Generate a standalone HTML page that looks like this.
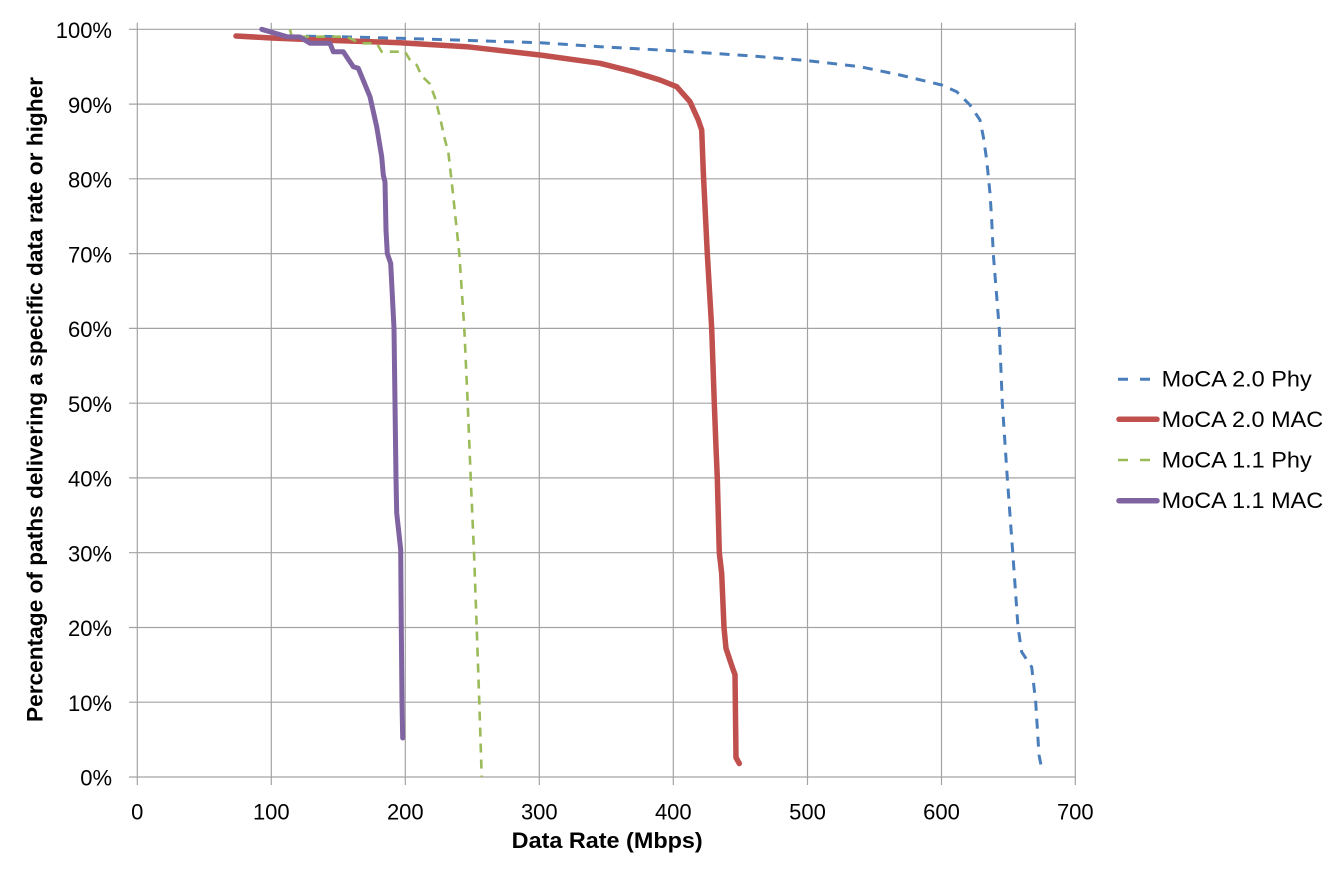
<!DOCTYPE html>
<html><head><meta charset="utf-8"><style>
html,body{margin:0;padding:0;background:#fff;}
svg{display:block}
text{font-family:"Liberation Sans",Arial,sans-serif;fill:#000}
</style></head><body>
<svg width="1337" height="879" viewBox="0 0 1337 879" xmlns="http://www.w3.org/2000/svg">
<rect width="1337" height="879" fill="#fff"/>
<g stroke="#a3a3a3" stroke-width="1.2" fill="none">
<line x1="129" y1="702.2" x2="1075.3" y2="702.2"/>
<line x1="129" y1="627.5" x2="1075.3" y2="627.5"/>
<line x1="129" y1="552.7" x2="1075.3" y2="552.7"/>
<line x1="129" y1="477.9" x2="1075.3" y2="477.9"/>
<line x1="129" y1="403.2" x2="1075.3" y2="403.2"/>
<line x1="129" y1="328.4" x2="1075.3" y2="328.4"/>
<line x1="129" y1="253.6" x2="1075.3" y2="253.6"/>
<line x1="129" y1="178.8" x2="1075.3" y2="178.8"/>
<line x1="129" y1="104.1" x2="1075.3" y2="104.1"/>
<line x1="129" y1="29.3" x2="1075.3" y2="29.3"/>
<line x1="271.3" y1="22.7" x2="271.3" y2="785"/>
<line x1="405.3" y1="22.7" x2="405.3" y2="785"/>
<line x1="539.3" y1="22.7" x2="539.3" y2="785"/>
<line x1="673.3" y1="22.7" x2="673.3" y2="785"/>
<line x1="807.5" y1="22.7" x2="807.5" y2="785"/>
<line x1="941.5" y1="22.7" x2="941.5" y2="785"/>
<line x1="1075.3" y1="22.7" x2="1075.3" y2="785"/>
<line x1="137.3" y1="22.7" x2="137.3" y2="785"/>
<line x1="129" y1="777" x2="1075.3" y2="777"/>
</g>

<g font-size="22" text-anchor="end">
<text x="112" y="38">100%</text>
<text x="112" y="112.8">90%</text>
<text x="112" y="187.5">80%</text>
<text x="112" y="262.3">70%</text>
<text x="112" y="337.1">60%</text>
<text x="112" y="411.9">50%</text>
<text x="112" y="486.6">40%</text>
<text x="112" y="561.4">30%</text>
<text x="112" y="636.2">20%</text>
<text x="112" y="710.9">10%</text>
<text x="112" y="785.7">0%</text>
</g>
<g font-size="22" text-anchor="middle">
<text x="137.3" y="819.3">0</text>
<text x="271.3" y="819.3">100</text>
<text x="405.3" y="819.3">200</text>
<text x="539.3" y="819.3">300</text>
<text x="673.3" y="819.3">400</text>
<text x="807.5" y="819.3">500</text>
<text x="941.5" y="819.3">600</text>
<text x="1075.3" y="819.3">700</text>
</g>
<text x="511.7" y="848" font-size="22" font-weight="bold" textLength="191" lengthAdjust="spacingAndGlyphs">Data Rate (Mbps)</text>
<text transform="translate(42.5,722) rotate(-90)" x="0" y="0" font-size="22.5" font-weight="bold" textLength="645" lengthAdjust="spacingAndGlyphs">Percentage of paths delivering a specific data rate or higher</text>

<!-- MoCA 2.0 Phy -->
<polyline fill="none" stroke="#4a7ebb" stroke-width="3" stroke-dasharray="10 8" stroke-linejoin="round"
points="288,36 330,36.5 400,38.3 470,40.5 540,42.7 600,46.7 673,50.7 753,56 808,60.7 860,66.7 900,75 941.7,85 956.7,91.7 970,105 980,120 983.3,136.7 986.7,160 990,193.3 991.7,220 993.3,254 999.3,329 1002.3,403 1007.3,478 1012.7,552 1018,627 1021.7,652 1031.7,667 1035.7,702 1039,755 1041,765"/>

<!-- MoCA 2.0 MAC -->
<polyline fill="none" stroke="#c0504d" stroke-width="5.5" stroke-linejoin="round" stroke-linecap="round"
points="236,36 271.7,38 320,40 400,42.7 466.7,46.7 540,55 600,63.3 633.3,71.7 660,80 676.7,86.7 690,101.7 698.3,120 701.7,130 703.3,172 707.3,253.6 711.7,328.4 714.3,403.2 716,447.3 717.3,477.9 719.3,552.7 721.7,573.6 724,627.5 726,648.4 730,660.4 733.3,670.1 735,674.6 736,757.6 739.3,763.5"/>

<!-- MoCA 1.1 Phy -->
<polyline fill="none" stroke="#9bbb59" stroke-width="2.6" stroke-dasharray="9 7" stroke-linejoin="round"
points="290,29.3 291.7,36.7 346.7,36.7 360,43.3 376.7,43.3 381.7,51.7 405,51.7 410,60 416.7,65 421.7,76 430,84 435,97.9 440,117.5 445,140 448.3,152 451.7,182 459.3,253.6 464.3,328.4 467.7,403.2 470.7,478 474,552.7 476.7,627.5 479.3,702.3 481.7,777"/>

<!-- MoCA 1.1 MAC -->
<polyline fill="none" stroke="#8064a2" stroke-width="5" stroke-linejoin="round" stroke-linecap="round"
points="261.7,29.3 286.7,36.7 300,37 310,43.3 330,43.3 333.3,51.7 343.3,51.7 353.3,66.7 358.3,68.3 370,96.7 376.7,126.7 381.7,156.7 383.3,175 385,182 386,230 387.3,253.6 390.7,263.3 394,328.4 395,403.2 396,478 396.7,513 400.7,549.7 401.3,627.5 402,702.3 402.7,738"/>

<!-- Legend -->
<line x1="1118" y1="379.3" x2="1150" y2="379.3" stroke="#4a7ebb" stroke-width="3" stroke-dasharray="10 12"/>
<text x="1161.7" y="386.5" font-size="22.5" textLength="150" lengthAdjust="spacingAndGlyphs">MoCA 2.0 Phy</text>
<line x1="1119" y1="419.3" x2="1157" y2="419.3" stroke="#c0504d" stroke-width="5.5" stroke-linecap="round"/>
<text x="1161.7" y="427" font-size="22.5" textLength="161.5" lengthAdjust="spacingAndGlyphs">MoCA 2.0 MAC</text>
<line x1="1118" y1="460" x2="1150" y2="460" stroke="#9bbb59" stroke-width="2.6" stroke-dasharray="10 12"/>
<text x="1161.7" y="467.5" font-size="22.5" textLength="150" lengthAdjust="spacingAndGlyphs">MoCA 1.1 Phy</text>
<line x1="1119" y1="500.7" x2="1157" y2="500.7" stroke="#8064a2" stroke-width="5.5" stroke-linecap="round"/>
<text x="1161.7" y="508" font-size="22.5" textLength="161.5" lengthAdjust="spacingAndGlyphs">MoCA 1.1 MAC</text>
</svg>
</body></html>
